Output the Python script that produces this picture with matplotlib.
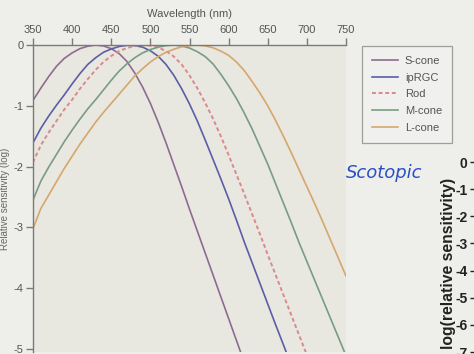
import numpy as np
import matplotlib
matplotlib.use("Agg")
import matplotlib.pyplot as plt

plt.rcParams['font.family'] = ['Liberation Sans', 'DejaVu Sans']
plt.rcParams['axes.unicode_minus'] = False

nan = np.nan
# wavelengths 350..750 nm every 10 nm
wavelength = [350, 360, 370, 380, 390, 400, 410, 420, 430, 440,
              450, 460, 470, 480, 490, 500, 510, 520, 530, 540,
              550, 560, 570, 580, 590, 600, 610, 620, 630, 640,
              650, 660, 670, 680, 690, 700, 710, 720, 730, 740, 750]
s_cone = [-0.91, -0.71, -0.52, -0.35, -0.22, -0.13, -0.06, -0.02, 0.00, -0.015,
          -0.06, -0.14, -0.27, -0.46, -0.69, -0.96, -1.27, -1.61, -1.97, -2.33,
          -2.70, -3.06, -3.42, -3.78, -4.14, -4.50, -4.86, -5.22, -5.58, nan,
          nan, nan, nan, nan, nan, nan, nan, nan, nan, nan, nan]
iprgc = [-1.61, -1.37, -1.17, -0.99, -0.82, -0.64, -0.47, -0.32, -0.21, -0.12,
         -0.065, -0.025, -0.005, -0.01, -0.035, -0.095, -0.185, -0.32, -0.50, -0.72,
         -0.97, -1.25, -1.56, -1.88, -2.20, -2.53, -2.88, -3.24, -3.58, -3.92,
         -4.26, -4.60, -4.93, -5.27, -5.60, nan, nan, nan, nan, nan, nan]
rod = [-1.93, -1.65, -1.44, -1.25, -1.06, -0.90, -0.72, -0.56, -0.41, -0.28,
       -0.18, -0.10, -0.05, -0.015, 0.00, -0.01, -0.04, -0.10, -0.19, -0.32,
       -0.50, -0.71, -0.95, -1.21, -1.50, -1.81, -2.13, -2.45, -2.78, -3.11,
       -3.45, -3.78, -4.11, -4.44, -4.77, -5.10, -5.43, nan, nan, nan, nan]
m_cone = [-2.55, -2.24, -2.01, -1.80, -1.59, -1.40, -1.22, -1.05, -0.90, -0.74,
          -0.58, -0.43, -0.31, -0.21, -0.13, -0.075, -0.035, -0.01, 0.00, -0.015,
          -0.05, -0.11, -0.19, -0.31, -0.48, -0.67, -0.88, -1.12, -1.38, -1.67,
          -1.96, -2.28, -2.60, -2.92, -3.25, -3.56, -3.87, -4.18, -4.49, -4.80, -5.11]
l_cone = [-3.02, -2.69, -2.47, -2.25, -2.03, -1.83, -1.63, -1.45, -1.27, -1.11,
          -0.96, -0.81, -0.66, -0.51, -0.39, -0.28, -0.19, -0.12, -0.07, -0.03,
          -0.008, 0.00, -0.015, -0.045, -0.10, -0.17, -0.28, -0.42, -0.60, -0.79,
          -1.00, -1.24, -1.50, -1.77, -2.05, -2.33, -2.61, -2.90, -3.20, -3.50, -3.80]

series_labels = ["S-cone", "ipRGC", "Rod", "M-cone", "L-cone"]
x_ticks = [350, 400, 450, 500, 550, 600, 650, 700, 750]
y_ticks = [0, -1, -2, -3, -4, -5]
right_ticks = [0, -1, -2, -3, -4, -5, -6, -7]

colors = ["#8d6c91", "#5b5ea6", "#d98a8c", "#789c84", "#d6a76c"]

W, H = 474, 354
fig = plt.figure(figsize=(W / 100, H / 100), dpi=100, facecolor="#eeeeeb")

def fx(px):
    return px / W

def fy(py):
    return 1 - py / H

ax = fig.add_axes([fx(33), fy(352), fx(346) - fx(33), fy(45) - fy(352)])
ax.set_facecolor("#e8e7e0")

data = [s_cone, iprgc, rod, m_cone, l_cone]
for vals, lab, col in zip(data, series_labels, colors):
    if lab == "Rod":
        ax.plot(wavelength, vals, color=col, lw=1.4, dashes=(2.0, 1.4), label=lab)
    else:
        ax.plot(wavelength, vals, color=col, lw=1.2, label=lab)

ax.set_xlim(350, 750)
ax.set_ylim(-5.05, 0)
ax.xaxis.set_ticks_position("top")
ax.xaxis.set_label_position("top")
ax.set_xticks(x_ticks)
ax.set_yticks(y_ticks)
ax.set_yticklabels([str(v) for v in y_ticks])
for sp in ["right", "bottom"]:
    ax.spines[sp].set_visible(False)
for sp in ["left", "top"]:
    ax.spines[sp].set_color("#7a7a7a")
    ax.spines[sp].set_linewidth(1.0)
ax.tick_params(axis="both", colors="#7a7a7a", labelcolor="#555555", labelsize=8, length=5, width=1.0, pad=2)
ax.set_xlabel("Wavelength (nm)", fontsize=8, color="#555555", labelpad=6)
ax.set_ylabel("Relative sensitivity (log)", fontsize=7, color="#666666", labelpad=2)

leg = ax.legend(loc="upper left", bbox_to_anchor=(fx(362), fy(46)), bbox_transform=fig.transFigure,
                fontsize=8, frameon=True, fancybox=False, handlelength=2.35, handletextpad=0.6,
                labelspacing=0.6, borderpad=0.9, borderaxespad=0)
leg.get_frame().set_edgecolor("#8a8a8a")
leg.get_frame().set_facecolor("#f1f1ef")
leg.get_frame().set_linewidth(0.9)
for t in leg.get_texts():
    t.set_color("#555555")

fig.text(fx(384), fy(173), "Scotopic", color="#2a4fc4", fontsize=13, fontstyle="italic",
         family=["DejaVu Sans"], fontweight="light", ha="center", va="center")

ax2 = fig.add_axes([fx(476), fy(352), 0.05, fy(162) - fy(352)])
ax2.set_ylim(-7, 0)
ax2.set_yticks(right_ticks)
ax2.set_yticklabels([str(v) for v in right_ticks])
ax2.set_xticks([])
ax2.patch.set_visible(False)
for sp in ax2.spines.values():
    sp.set_visible(False)
ax2.tick_params(axis="y", length=4, width=1.0, colors="#222222", labelsize=10, pad=2)
for t in ax2.get_yticklabels():
    t.set_fontweight("bold")
fig.text(fx(449), fy(263), "log(relative sensitivity)", rotation=90, fontsize=11.3, fontweight="bold",
         color="#222222", ha="center", va="center")

fig.savefig("out.png", dpi=100, facecolor=fig.get_facecolor())
